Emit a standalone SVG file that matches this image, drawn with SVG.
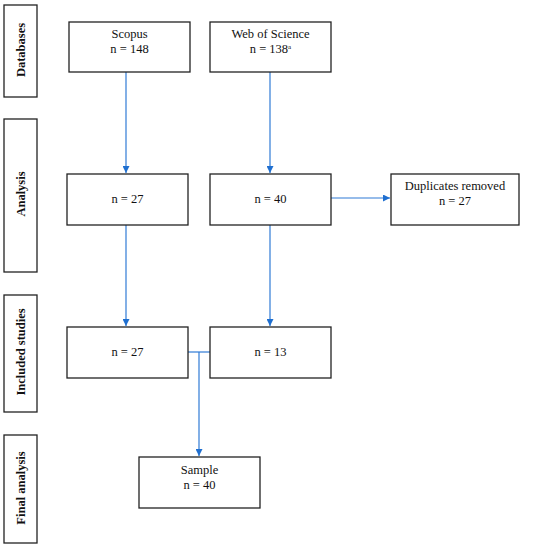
<svg xmlns="http://www.w3.org/2000/svg" width="550" height="547" viewBox="0 0 550 547">
<style>
.box{fill:#fff;stroke:#222;stroke-width:1.3}
.t{font-family:"Liberation Serif",serif;font-size:12.5px;fill:#111;text-anchor:middle}
.s{font-family:"Liberation Serif",serif;font-size:12.5px;font-weight:bold;fill:#111;text-anchor:middle}
.c{fill:none;stroke:#2f7bd6;stroke-width:1.2}
</style>
<defs>
<marker id="ah" viewBox="0 0 10 10" refX="10" refY="5" markerWidth="7" markerHeight="7" orient="auto" markerUnits="userSpaceOnUse">
<path d="M0,0 L10,5 L0,10 z" fill="#1f6fd0"/>
</marker>
</defs>
<rect width="550" height="547" fill="#fff"/>
<g id="side-databases"><rect class="box" x="4" y="5" width="33" height="92"/><text class="s" transform="translate(25,50) rotate(-90)">Databases</text></g>
<g id="side-analysis"><rect class="box" x="4" y="119" width="33" height="153"/><text class="s" transform="translate(25,194) rotate(-90)">Analysis</text></g>
<g id="side-included"><rect class="box" x="4" y="295" width="33" height="117"/><text class="s" transform="translate(25,352) rotate(-90)">Included studies</text></g>
<g id="side-final"><rect class="box" x="4" y="435" width="33" height="108"/><text class="s" transform="translate(25,488) rotate(-90)">Final analysis</text></g>

<g id="connectors">
<line class="c" x1="126" y1="72" x2="126" y2="173" marker-end="url(#ah)"/>
<line class="c" x1="270" y1="72" x2="270" y2="173" marker-end="url(#ah)"/>
<line class="c" x1="331" y1="198" x2="390" y2="198" marker-end="url(#ah)"/>
<line class="c" x1="126" y1="225" x2="126" y2="326" marker-end="url(#ah)"/>
<line class="c" x1="270" y1="225" x2="270" y2="326" marker-end="url(#ah)"/>
<polyline class="c" points="188,352 210,352"/>
<line class="c" x1="199" y1="352" x2="199" y2="456" marker-end="url(#ah)"/>
</g>

<g id="scopus"><rect class="box" x="69" y="22" width="121" height="50"/><text class="t" x="129.5" y="38">Scopus</text><text class="t" x="129.5" y="53">n = 148</text></g>
<g id="wos"><rect class="box" x="210" y="22" width="121" height="50"/><text class="t" x="270.5" y="38">Web of Science</text><text class="t" x="270.5" y="53">n = 138<tspan font-size="7" dy="-4">a</tspan></text></g>
<g id="analysis-scopus"><rect class="box" x="67" y="174" width="121" height="51"/><text class="t" x="127.5" y="203">n = 27</text></g>
<g id="analysis-wos"><rect class="box" x="210" y="174" width="121" height="51"/><text class="t" x="270.5" y="203">n = 40</text></g>
<g id="duplicates"><rect class="box" x="391" y="174" width="128" height="51"/><text class="t" x="455" y="190">Duplicates removed</text><text class="t" x="455" y="205">n = 27</text></g>
<g id="included-scopus"><rect class="box" x="67" y="327" width="121" height="51"/><text class="t" x="127.5" y="356">n = 27</text></g>
<g id="included-wos"><rect class="box" x="210" y="327" width="121" height="51"/><text class="t" x="270.5" y="356">n = 13</text></g>
<g id="sample"><rect class="box" x="139" y="457" width="121" height="51"/><text class="t" x="199.5" y="474">Sample</text><text class="t" x="199.5" y="489">n = 40</text></g>
</svg>
